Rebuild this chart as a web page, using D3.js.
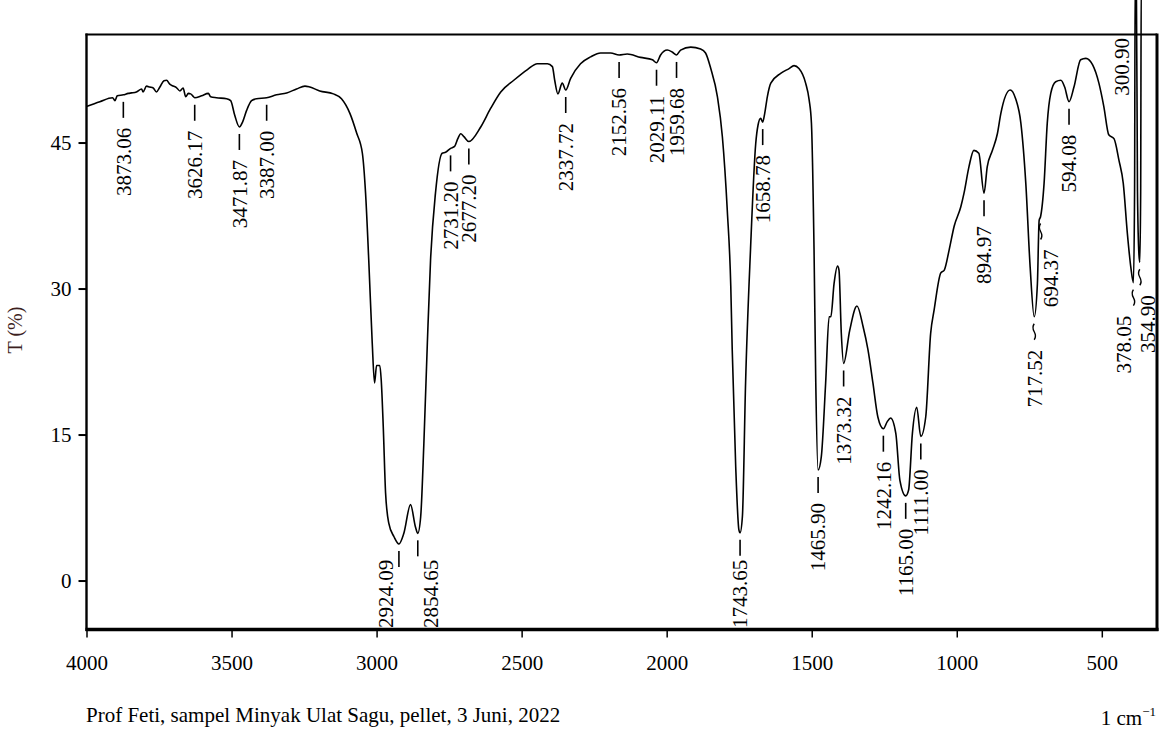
<!DOCTYPE html>
<html>
<head>
<meta charset="utf-8">
<script src="https://d3js.org/d3.v7.min.js"></script>
<style>
  html, body { margin: 0; padding: 0; background: #fff; }
  svg { display: block; font-family: "Liberation Serif", "Times New Roman", serif; }
  svg text { font-family: "Liberation Serif", "Times New Roman", serif; }
</style>
</head>
<body>
<div id="chart"></div>
<script>
// FTIR spectrum (cm-1 vs %T)
const wavenumbers = [
  4000, 3954, 3910, 3902, 3894, 3873, 3856, 3845, 3828, 3810, 3805, 3793, 3782, 3770,
  3759, 3747, 3733, 3724, 3713, 3701, 3690, 3678, 3667, 3658, 3649, 3641, 3634, 3627,
  3603, 3580, 3572, 3552, 3517, 3503, 3489, 3473, 3462, 3448, 3431, 3414, 3379, 3345,
  3310, 3276, 3247, 3230, 3196, 3149, 3121, 3092, 3069, 3049, 3038, 3027, 3015, 3007,
  3000, 2989, 2984, 2977, 2969, 2958, 2940, 2923, 2906, 2883, 2866, 2858, 2848, 2837,
  2825, 2814, 2797, 2774, 2762, 2745, 2731, 2720, 2710, 2699, 2682, 2641, 2607, 2572,
  2527, 2480, 2446, 2411, 2394, 2386, 2375, 2360, 2348, 2331, 2297, 2262, 2228, 2193,
  2164, 2136, 2090, 2049, 2035, 2021, 1998, 1981, 1966, 1952, 1917, 1883, 1866, 1848,
  1825, 1808, 1791, 1779, 1774, 1762, 1751, 1747, 1739, 1728, 1711, 1693, 1685, 1676,
  1669, 1662, 1653, 1641, 1607, 1578, 1561, 1544, 1521, 1509, 1501, 1492, 1486, 1478,
  1467, 1452, 1440, 1434, 1423, 1411, 1406, 1398, 1390, 1369, 1344, 1323, 1306, 1289,
  1272, 1253, 1240, 1228, 1210, 1196, 1176, 1166, 1153, 1138, 1124, 1107, 1090, 1078,
  1055, 1043, 1026, 1009, 986, 975, 958, 941, 924, 906, 895, 877, 860, 848,
  816, 797, 779, 762, 747, 733, 722, 716, 711, 699, 688, 676, 659, 641,
  628, 613, 596, 573, 555, 532, 510, 493, 476, 458, 441, 426, 412, 400,
  391, 387, 385, 381, 377, 372, 369, 366, 364, 308
];
const transmittance = [
  48.7, 49.2, 49.6, 49.3, 49.8, 49.9, 50.05, 50.1, 50.2, 50.5, 50.2, 50.8, 50.7, 50.6,
  50.2, 50.7, 51.35, 51.4, 51.0, 50.8, 50.65, 50.3, 50.6, 49.7, 50.05, 50.0, 49.8, 49.6,
  49.8, 50.05, 49.7, 49.6, 49.5, 49.3, 47.8, 46.6, 47.1, 48.3, 49.3, 49.5, 49.6, 49.9,
  50.1, 50.5, 50.8, 50.7, 50.3, 50.0, 49.5, 48.0, 46.0, 43.9, 39.8, 32.9, 24.4, 20.3,
  22.1, 22.1, 20.6, 15.8, 9.0, 5.9, 4.5, 3.75, 4.85, 7.8, 5.5, 4.85, 6.55, 14.1,
  24.4, 32.9, 39.8, 43.9, 44.0, 44.4, 44.6, 45.4, 45.9, 45.6, 45.1, 46.6, 48.5, 50.2,
  51.4, 52.5, 53.1, 53.1, 52.8, 51.4, 50.0, 51.1, 50.4, 51.6, 53.1, 53.8, 54.2, 54.2,
  54.0, 54.1, 53.75, 53.5, 53.2, 54.0, 54.5, 54.3, 54.0, 54.5, 54.8, 54.6, 54.2, 52.6,
  49.7, 45.6, 38.0, 30.2, 23.7, 11.7, 5.2, 4.9, 6.55, 20.3, 34.0, 44.9, 46.8, 47.5,
  47.1, 48.0, 49.7, 51.1, 52.1, 52.6, 52.9, 52.6, 51.1, 49.4, 47.0, 34.0, 20.3, 11.35,
  12.7, 20.3, 27.1, 27.1, 30.5, 32.3, 31.9, 25.4, 22.3, 25.7, 28.2, 26.1, 23.7, 20.3,
  16.8, 15.6, 16.3, 16.7, 15.1, 10.3, 8.7, 9.3, 15.1, 17.8, 14.8, 16.8, 25.4, 27.8,
  31.6, 31.9, 34.0, 36.4, 38.4, 39.8, 42.5, 44.2, 43.9, 39.8, 42.5, 44.2, 45.9, 48.0,
  50.4, 49.5, 47.0, 40.8, 32.2, 27.1, 30.5, 37.0, 37.4, 40.8, 47.0, 50.05, 51.25, 51.4,
  50.7, 49.2, 50.7, 53.5, 53.65, 53.0, 51.1, 48.7, 45.8, 45.4, 43.2, 40.8, 35.7, 32.2,
  30.6, 40, 62, 62, 40, 33.5, 32.7, 40, 62, 62
];
const peakLabels = [
  '3873.06', '3626.17', '3471.87', '3387.00', '2924.09', '2854.65', '2731.20', '2677.20',
  '2337.72', '2152.56', '2029.11', '1959.68', '1743.65', '1658.78', '1465.90', '1373.32',
  '1242.16', '1165.00', '1111.00', '894.97', '717.52', '694.37', '594.08', '378.05',
  '354.90', '300.90'
];
const xTicks = [4000, 3500, 3000, 2500, 2000, 1500, 1000, 500];
const yTicks = [0, 15, 30, 45];
const footnote = 'Prof Feti, sampel Minyak Ulat Sagu, pellet, 3 Juni, 2022';

// where the print nudged a label sideways or used a wavy leader
const labelLayout = {
  '2924.09': { dx: -13 },
  '2854.65': { dx: 13 },
  '717.52': { leader: 'tilde' },
  '694.37': { leader: 'tilde', dx: 10 },
  '378.05': { leader: 'tilde', dx: -10 },
  '354.90': { leader: 'tilde', dx: 8 },
  '300.90': { leader: 'none', dx: -36, top: 38 }
};

const width = 1164, height = 734;
const plotBottom = 629.2, plotTop = 34.5;
const serif = '"Liberation Serif", "Times New Roman", serif';

const svg = d3.select('#chart').append('svg')
  .attr('width', width)
  .attr('height', height);

const x = d3.scaleLinear().domain([4000, 308]).range([86.5, 1157.5]);
const y = d3.scaleLinear().domain([-5, 56.1]).range([plotBottom, plotTop]);

const spectrum = wavenumbers.map((w, i) => ({ w: w, t: transmittance[i] }));

// axes
const xAxis = svg.append('g')
  .attr('transform', 'translate(0,' + 629.5 + ')')
  .call(d3.axisBottom(x).tickValues(xTicks).tickSize(8).tickPadding(18).tickFormat(d3.format('d')));
xAxis.attr('font-family', null).attr('font-size', null);
xAxis.select('.domain').remove();
xAxis.selectAll('line').attr('stroke', '#000').attr('stroke-width', 1.5);
xAxis.selectAll('text').attr('fill', '#000')
  .style('font-family', serif).style('font-size', '21px');

const yAxis = svg.append('g')
  .attr('transform', 'translate(86.5,0)')
  .call(d3.axisLeft(y).tickValues(yTicks).tickSize(8).tickPadding(7));
yAxis.attr('font-family', null).attr('font-size', null);
yAxis.select('.domain').remove();
yAxis.selectAll('line').attr('stroke', '#000').attr('stroke-width', 2);
yAxis.selectAll('text').attr('fill', '#000')
  .style('font-family', serif).style('font-size', '21px');

// frame
const frame = svg.append('g').attr('stroke', '#000').attr('fill', 'none');
frame.append('line').attr('x1', 86.5).attr('x2', 86.5).attr('y1', 33.5).attr('y2', 631).attr('stroke-width', 2.4);
frame.append('line').attr('x1', 85.5).attr('x2', 1157).attr('y1', 34.5).attr('y2', 34.5).attr('stroke-width', 2);
frame.append('line').attr('x1', 1157).attr('x2', 1157).attr('y1', 33.5).attr('y2', 631).attr('stroke-width', 3);
frame.append('line').attr('x1', 85.5).attr('x2', 1158.5).attr('y1', 629.5).attr('y2', 629.5).attr('stroke-width', 3.3);

// spectrum
const line = d3.line()
  .x(d => x(d.w))
  .y(d => y(d.t))
  .curve(d3.curveMonotoneX);

svg.append('path')
  .datum(spectrum)
  .attr('fill', 'none')
  .attr('stroke', '#000')
  .attr('stroke-width', 1.6)
  .attr('stroke-linejoin', 'round')
  .attr('d', line);

// peak labels: short leader under the dip, value rotated underneath
function nearestDip(v) {
  const near = spectrum.filter(d => Math.abs(d.w - v) <= 20);
  return d3.least(near, d => d.t) || { w: v, t: 56 };
}

const labels = svg.append('g');
peakLabels.forEach(lbl => {
  const v = +lbl;
  const lay = labelLayout[lbl] || {};
  const dip = nearestDip(v);
  const px = x(dip.w);
  const py = y(dip.t);
  const t0 = py + 7, t1 = py + 23;

  if (lay.leader === 'tilde') {
    labels.append('path')
      .attr('d', 'M' + px + ',' + t0 +
        ' C' + (px - 5) + ',' + (t0 + 7) + ' ' + (px + 5) + ',' + (t1 - 7) + ' ' + px + ',' + t1)
      .attr('fill', 'none').attr('stroke', '#000').attr('stroke-width', 1.4);
  } else if (lay.leader !== 'none') {
    labels.append('line')
      .attr('x1', px).attr('x2', px).attr('y1', t0).attr('y2', t1)
      .attr('stroke', '#000').attr('stroke-width', 1.6);
  }

  const tx = px + (lay.dx || 0);
  const txt = labels.append('text')
    .style('font-size', '21px')
    .attr('text-anchor', 'end')
    .attr('dy', '0.35em')
    .attr('fill', '#000')
    .text(lbl);
  const len = txt.node().getComputedTextLength();
  let top = lay.top !== undefined ? lay.top : py + 33;
  top = Math.min(top, 628 - len);
  txt.attr('transform', 'translate(' + tx + ',' + top + ') rotate(-90)');
});

// axis titles and footer
svg.append('text')
  .attr('transform', 'translate(15,330) rotate(-90)')
  .attr('text-anchor', 'middle')
  .attr('dy', '0.35em')
  .style('font-size', '20px')
  .attr('fill', '#3d1f1f')
  .text('T (%)');

svg.append('text')
  .attr('x', 86)
  .attr('y', 722)
  .style('font-size', '21px')
  .attr('fill', '#000')
  .text(footnote);

const unit = svg.append('text')
  .attr('x', 1156)
  .attr('y', 725)
  .attr('text-anchor', 'end')
  .style('font-size', '21px')
  .attr('fill', '#000');
unit.append('tspan').text('1 cm');
unit.append('tspan').style('font-size', '13px').attr('dy', -9).text('\u22121');
</script>
</body>
</html>
